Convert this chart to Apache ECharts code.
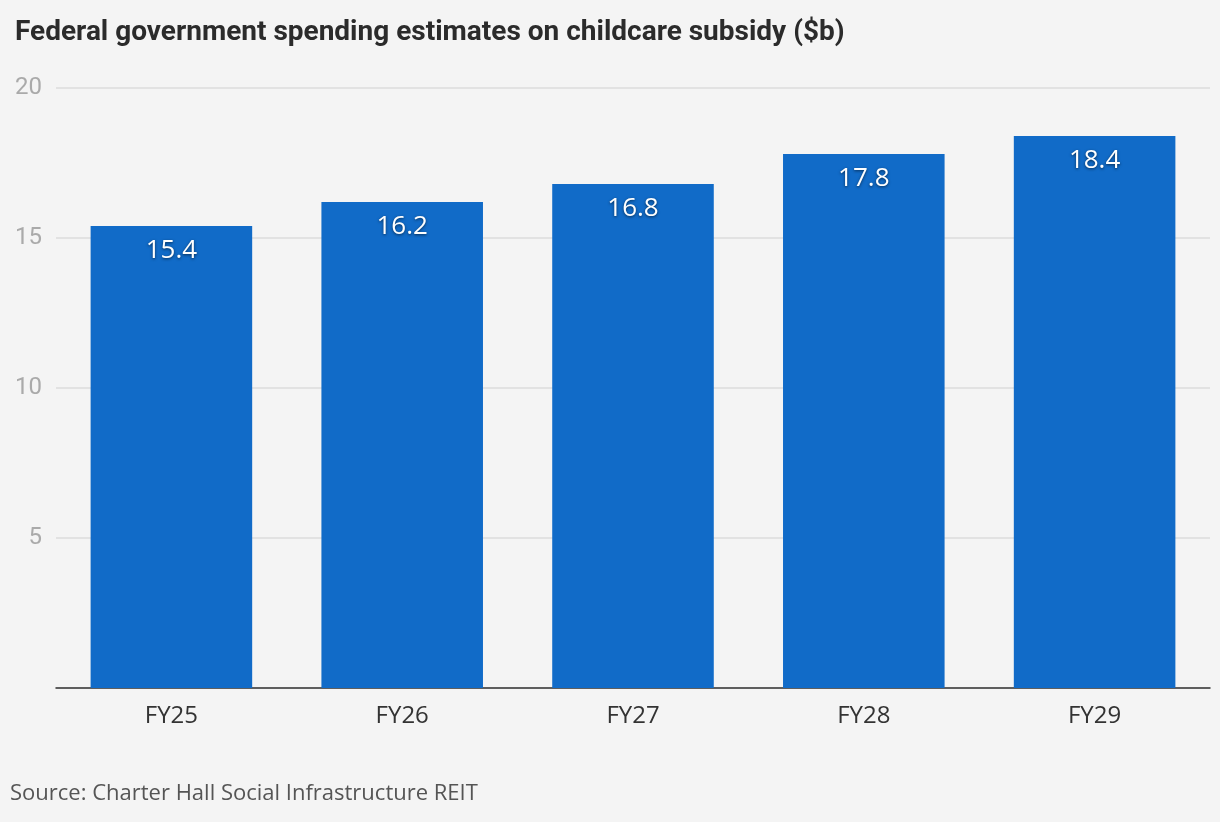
<!DOCTYPE html>
<html>
<head>
<meta charset="utf-8">
<script src="https://cdn.jsdelivr.net/npm/echarts@6/dist/echarts.min.js"></script>
<style>
  html, body { margin: 0; padding: 0; background: #f4f4f4; }
  #chart { width: 1220px; height: 822px; }
</style>
</head>
<body>
<div id="chart"></div>
<script>
  // 数据
  var categories = ['FY25', 'FY26', 'FY27', 'FY28', 'FY29'];
  var spending = [15.4, 16.2, 16.8, 17.8, 18.4];
  var yTicks = [0, 5, 10, 15, 20];

  var chart = echarts.init(document.getElementById('chart'));
  var option = {
    backgroundColor: '#f4f4f4',
    animation: false,
    title: {
      text: 'Federal government spending estimates on childcare subsidy ($b)',
      left: 10, top: 14,
      textStyle: { fontFamily: 'Roboto', fontWeight: 'bold', fontSize: 28, color: '#2b2b2b' }
    },
    graphic: [{
      type: 'text', left: 10, top: 783,
      style: { text: 'Source: Charter Hall Social Infrastructure REIT', font: '22px "Open Sans"', fill: '#555' }
    }],
    grid: { left: 56, right: 10, top: 88, bottom: 134 },
    xAxis: {
      type: 'category',
      data: categories,
      axisTick: { show: false },
      axisLine: { lineStyle: { color: '#333', width: 1.5 } },
      axisLabel: { fontFamily: 'Open Sans', fontSize: 24, color: '#333', margin: 16 }
    },
    yAxis: {
      type: 'value',
      min: yTicks[0], max: yTicks[yTicks.length - 1], interval: 5,
      axisLabel: {
        fontFamily: 'Roboto', fontSize: 24, color: '#aaa', margin: 14,
        formatter: function (v) { return v === 0 ? '' : v; }
      },
      splitLine: { lineStyle: { color: '#dcdcdc', width: 1.5 } }
    },
    series: [{
      type: 'bar',
      data: spending,
      barWidth: '70%',
      itemStyle: { color: '#116bc8' },
      label: {
        show: true, position: 'insideTop', distance: 12,
        fontFamily: 'Open Sans', fontSize: 26, color: '#fff',
        textShadowColor: 'rgba(0,0,0,0.6)', textShadowBlur: 3, textShadowOffsetY: 1
      }
    }]
  };
  chart.setOption(option);
</script>
</body>
</html>
